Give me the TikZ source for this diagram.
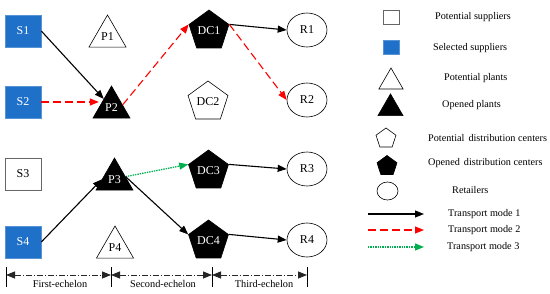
\documentclass[tikz,border=0pt]{standalone}
\usepackage{fontspec}
\setmainfont{Liberation Serif}
\usetikzlibrary{shapes.geometric,arrows.meta}
\definecolor{selblue}{RGB}{30,112,200}
\definecolor{mgreen}{RGB}{0,176,80}
\begin{document}
\begin{tikzpicture}[x=1pt,y=-1pt,
  lbl/.style={font=\fontsize{12}{14}\selectfont},
  sup/.style={rectangle, draw=black!60, line width=0.6pt, minimum width=36pt, minimum height=32pt, inner sep=0pt, lbl},
  selsup/.style={sup, fill=selblue, draw=selblue!75!white, text=white},
  plant/.style={regular polygon, regular polygon sides=3, draw, line width=0.6pt, minimum size=42.8pt, inner sep=0pt, lbl},
  oplant/.style={plant, fill=black, text=white},
  dcshape/.style={regular polygon, regular polygon sides=5, draw, line width=0.6pt, minimum size=42pt, inner sep=0pt, lbl},
  odc/.style={dcshape, fill=black, text=white},
  ret/.style={ellipse, draw, line width=0.6pt, minimum width=40pt, minimum height=34pt, inner sep=0pt, lbl},
  tip/.style={-{Triangle[length=9pt,width=7pt]}},
  mode1/.style={draw=black, line width=1.1pt, tip},
  mode2/.style={draw=red, line width=1.1pt, dash pattern=on 8pt off 4pt, tip},
  mode3/.style={draw=mgreen, line width=1.3pt, dash pattern=on 1.4pt off 1pt, tip},
  legtext/.style={font=\fontsize{10.2}{12}\selectfont, anchor=west, inner sep=0pt},
  echtext/.style={font=\fontsize{10.3}{12}\selectfont, inner sep=0pt},
  dimline/.style={draw=black!85, line width=0.8pt, dash pattern=on 6pt off 2pt on 1pt off 2pt,
    {Triangle[length=9pt,width=7pt]}-{Triangle[length=9pt,width=7pt]}},
  dimtick/.style={draw=black, line width=0.8pt}
]
\fill[white] (0,0) rectangle (550,294);
\useasboundingbox (0,0) rectangle (550,294);

% suppliers
\node[selsup] (S1) at (23,31) {S1};
\node[selsup] (S2) at (23,102) {S2};
\node[sup] (S3) at (23,174) {S3};
\node[selsup] (S4) at (23,242) {S4};
% plants
\node[plant] (P1) at (107.5,36.4) {P1};
\node[oplant] (P2) at (111.5,107.4) {P2};
\node[oplant] (P3) at (114.5,179.4) {P3};
\node[plant] (P4) at (115,247.4) {P4};
% distribution centers
\node[odc] (DC1) at (209,31) {DC1};
\node[dcshape] (DC2) at (208,102) {DC2};
\node[odc] (DC3) at (208.5,171) {DC3};
\node[odc] (DC4) at (208.5,241) {DC4};
% retailers
\node[ret] (R1) at (307,30) {R1};
\node[ret] (R2) at (307,100) {R2};
\node[ret] (R3) at (307,169) {R3};
\node[ret] (R4) at (307,240) {R4};

% connectors
\draw[mode1] (S1.east) -- (P2);
\draw[mode2] (S2.east) -- (S2.east -| P2.180);
\draw[mode2] (P2.13) -- (DC1.corner 2);
\draw[mode1] (DC1.corner 5) -- (R1.west);
\draw[mode2] (DC1.corner 5) -- (R2.west);
\draw[mode1] (S4.east) -- (P3.180);
\draw[mode3] (P3.14) -- (DC3.corner 2);
\draw[mode1] (P3.14) -- (DC4.corner 2);
\draw[mode1] (DC3.corner 5) -- (R3.west);
\draw[mode1] (DC4.corner 5) -- (R4.west);

% echelon dimension line
\coordinate (e1) at (6,275);
\coordinate (e2) at (111,275);
\coordinate (e3) at (212,275);
\coordinate (e4) at (307,275);
\foreach \e in {e1,e2,e3,e4}
  \draw[dimtick] ([yshift=8pt]\e) -- ([yshift=-12pt]\e);
\draw[dimline] (e1) -- (e2);
\draw[dimline] (e2) -- (e3);
\draw[dimline] (e3) -- (e4);
\node[echtext] (E1) at (60,284) {First-echelon};
\node[echtext] (E2) at (163,284) {Second-echelon};
\node[echtext] (E3) at (264,284) {Third-echelon};

% legend
\node[sup, minimum width=16pt, minimum height=14pt] (L1) at (391.5,17) {};
\node[selsup, minimum width=16pt, minimum height=14pt] (L2) at (391.5,47) {};
\node[plant, minimum size=28pt] (L3) at (391,82) {};
\node[oplant, minimum size=29pt] (L4) at (390.5,108.4) {};
\node[dcshape, minimum size=21pt] (L5) at (386,138.5) {};
\node[odc, minimum size=21pt] (L6) at (387,166) {};
\node[ret, minimum width=21pt, minimum height=18pt] (L7) at (387.5,191) {};
\coordinate (a1s) at (368,214);
\coordinate (a1e) at (424,214);
\coordinate (a2s) at (368,230);
\coordinate (a2e) at (424,230);
\coordinate (a3s) at (368,247);
\coordinate (a3e) at (424,247);
\draw[mode1] (a1s) -- (a1e);
\draw[mode2] (a2s) -- (a2e);
\draw[mode3] (a3s) -- (a3e);

\node[legtext] (T1) at (435,17) {Potential suppliers};
\node[legtext] (T2) at (433,48) {Selected suppliers};
\node[legtext] (T3) at (444,78) {Potential plants};
\node[legtext] (T4) at (442,105) {Opened plants};
\node[legtext] (T5) at (428,138) {Potential\hspace{0.4em}distribution centers};
\node[legtext] (T6) at (428,163) {Opened\hspace{0.4em}distribution centers};
\node[legtext] (T7) at (452,190) {Retailers};
\node[legtext] (T8) at (448,214) {Transport mode 1};
\node[legtext] (T9) at (448,230) {Transport mode 2};
\node[legtext] (T10) at (447,247) {Transport mode 3};
\end{tikzpicture}
\end{document}
